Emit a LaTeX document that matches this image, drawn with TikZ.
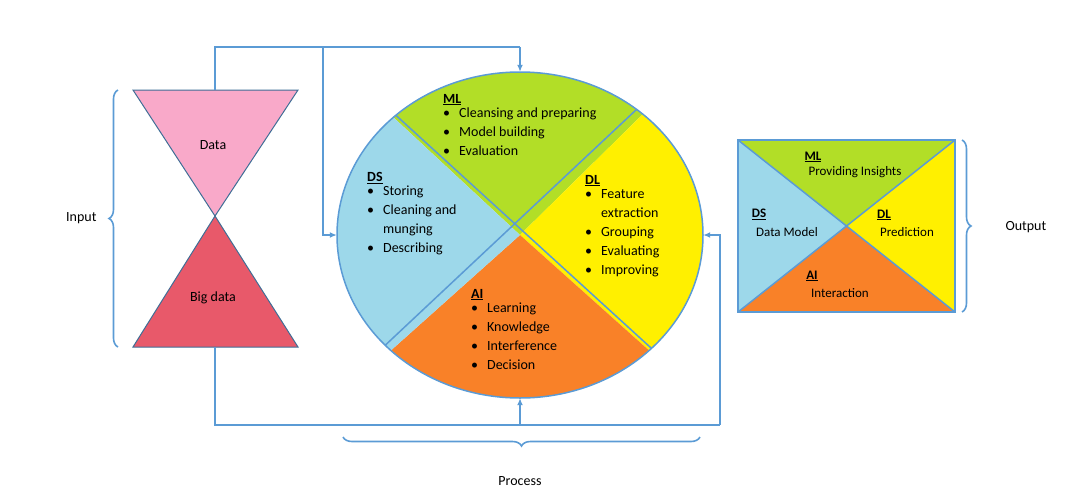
\documentclass[tikz,border=0pt]{standalone}
\usepackage{fontspec}
\setmainfont{Carlito}
\usetikzlibrary{arrows.meta,decorations.pathreplacing,shapes.geometric}
\definecolor{conn}{HTML}{5B9BD5}
\definecolor{mlc}{HTML}{B2DE27}
\definecolor{dsc}{HTML}{9DD8EA}
\definecolor{dlc}{HTML}{FFF000}
\definecolor{aic}{HTML}{F98128}
\definecolor{pinkc}{HTML}{F9A9C9}
\definecolor{redc}{HTML}{E8596A}
\definecolor{edgec}{HTML}{3F6E96}
\tikzset{
  conn/.style={draw=conn,line width=2.2pt},
  arr/.style={conn,-{Latex[length=7pt,width=6pt]}},
  brace/.style={draw=conn,line width=1.6pt,decorate,decoration={brace,amplitude=9pt}},
  lbl/.style={font=\fontsize{14}{19}\selectfont},
  blk/.style={font=\fontsize{14}{19}\selectfont,anchor=north west,align=left,inner sep=0pt},
  small/.style={font=\fontsize{13}{16}\selectfont,inner sep=0pt},
}
\newcommand{\hd}[1]{\textbf{\underline{#1}}}
\begin{document}
\begin{tikzpicture}[x=1pt,y=-1pt]
\useasboundingbox (0,0) rectangle (1085,491);
% hourglass
\coordinate (t1) at (133,90); \coordinate (t2) at (298,90); \coordinate (mid) at (215,216);
\coordinate (b1) at (133,347); \coordinate (b2) at (298,347);
\coordinate (htop) at (215,90); \coordinate (hbot) at (215,347);
\draw[fill=pinkc,draw=edgec,line width=1pt] (t1)--(t2)--(mid)--cycle;
\draw[fill=redc,draw=edgec,line width=1pt] (b1)--(b2)--(mid)--cycle;
\node[lbl] (data) at (213,145) {Data};
\node[lbl] (bigdata) at (213,298) {Big data};
% circle
\node[ellipse,minimum width=366pt,minimum height=326pt,inner sep=0pt] (C) at (520,235) {};
\begin{scope}
\clip (520,235) ellipse [x radius=183, y radius=163];
\fill[mlc] (520,235)--(139,-119)--(880,-119)--cycle;
\fill[dlc] (520,235)--(880,-119)--(889,565)--cycle;
\fill[aic] (520,235)--(889,565)--(151,565)--cycle;
\fill[dsc] (520,235)--(151,565)--(139,-119)--cycle;
\draw[conn,line width=1.5pt] (139,-119)--(889,565) (880,-119)--(151,565);
\end{scope}
\draw[conn,line width=1.5pt] (520,235) ellipse [x radius=183, y radius=163];
\node[blk] (mlt) at (443,94) {\hd{ML}\\[-2pt]\begin{tabular}{@{}l@{\hspace{9pt}}l@{}}\textbullet & Cleansing and preparing\\ \textbullet & Model building\\ \textbullet & Evaluation\end{tabular}};
\node[blk] (dst) at (367,172) {\hd{DS}\\[-2pt]\begin{tabular}{@{}l@{\hspace{9pt}}l@{}}\textbullet & Storing\\ \textbullet & Cleaning and\\ & munging\\ \textbullet & Describing\end{tabular}};
\node[blk] (dlt) at (585,175) {\hd{DL}\\[-2pt]\begin{tabular}{@{}l@{\hspace{9pt}}l@{}}\textbullet & Feature\\ & extraction\\ \textbullet & Grouping\\ \textbullet & Evaluating\\ \textbullet & Improving\end{tabular}};
\node[blk] (ait) at (471,289) {\hd{AI}\\[-2pt]\begin{tabular}{@{}l@{\hspace{9pt}}l@{}}\textbullet & Learning\\ \textbullet & Knowledge\\ \textbullet & Interference\\ \textbullet & Decision\end{tabular}};
% output box
\begin{scope}
\coordinate (o1) at (738,140); \coordinate (o2) at (955,140); \coordinate (o3) at (955,312); \coordinate (o4) at (738,312); \coordinate (oc) at (846.5,226);
\fill[mlc] (o1)--(o2)--(oc)--cycle;
\fill[dlc] (o2)--(o3)--(oc)--cycle;
\fill[aic] (o3)--(o4)--(oc)--cycle;
\fill[dsc] (o4)--(o1)--(oc)--cycle;
\draw[conn,line width=1.5pt] (o1)--(o3) (o2)--(o4);
\draw[conn,line width=2pt] (o1) rectangle (o3);
\end{scope}
\node[small] (oml) at (813,157) {\hd{ML}};
\node[small] (omlt) at (855,172) {Providing Insights};
\node[small] (ods) at (759,214) {\hd{DS}};
\node[small] (odst) at (787,232) {Data Model};
\node[small] (odl) at (884,215) {\hd{DL}};
\node[small] (odlt) at (907,232) {Prediction};
\node[small] (oai) at (812,276) {\hd{AI}};
\node[small] (oait) at (840,293) {Interaction};
% connectors
\coordinate (j1) at (215,47); \coordinate (j2) at (323,47); \coordinate (j3) at (520,47);
\coordinate (k1) at (215,425); \coordinate (k2) at (520,425); \coordinate (k3) at (720,425);
\draw[conn] (htop)--(j1)--(j3);
\draw[arr] (j3)--(C.north);
\draw[arr] (j2)--(323,235)--(C.west);
\draw[conn] (hbot)--(k1)--(k3);
\draw[arr] (k3)--(720,235)--(C.east);
\draw[arr] (k2)--(C.south);
% braces
\draw[brace] (118,347)--(118,90);
\node[lbl,anchor=east] (inp) at (100,218) {Input};
\draw[brace] (962,140)--(962,312);
\node[lbl,anchor=west] (outp) at (1002,227) {Output};
\draw[brace] (700,437)--(343,437);
\node[lbl] (proc) at (520,481) {Process};
\end{tikzpicture}
\end{document}
